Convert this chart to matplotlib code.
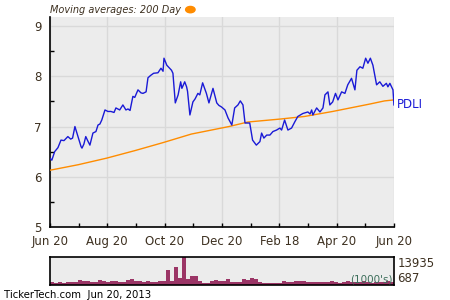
import matplotlib.pyplot as plt
import numpy as np

# days since Jun 20, 2012 and closing price
price_days = [0, 2, 5, 8.5, 11.7, 14.9, 19, 22, 24, 26.5, 29.7, 33, 34, 36, 38, 40,
              42.4, 45.6, 48.8, 51, 53, 55, 58.4, 61.5, 64.7, 68, 70, 72, 74, 77.4,
              80.6, 82.8, 85, 88, 90, 93.4, 96.6, 98.7, 102, 104, 107, 110, 114.6,
              117.8, 120, 121, 124, 126, 129, 130.5, 133, 136, 138.7, 140, 143, 145,
              146, 148.5, 151.7, 154, 157, 159, 162, 166, 168.7, 173, 177, 179.3, 182,
              185.7, 189, 193, 196, 199.5, 202, 204.8, 207, 212, 215, 219, 222.8,
              224.6, 227, 230, 233.4, 236.6, 240.5, 244, 245.8, 249, 252.5, 256.4,
              260, 263, 268.4, 273.7, 276, 277.7, 279, 283, 286.5, 289.7, 291.8, 295,
              297, 300, 303, 305.6, 309.5, 313, 316, 320, 323.6, 325.7, 329, 332, 335,
              337.4, 340, 342.7, 346.6, 350, 353.3, 357, 358.6, 360.7, 364, 365]
price = [6.37, 6.33, 6.50, 6.58, 6.73, 6.72, 6.80, 6.75, 6.77, 7.00, 6.80, 6.60, 6.57,
         6.65, 6.80, 6.72, 6.63, 6.87, 6.90, 7.03, 7.05, 7.13, 7.33, 7.30, 7.30, 7.28,
         7.37, 7.35, 7.33, 7.43, 7.33, 7.35, 7.32, 7.60, 7.58, 7.73, 7.67, 7.66, 7.69,
         7.97, 8.02, 8.06, 8.07, 8.16, 8.10, 8.36, 8.22, 8.18, 8.12, 8.06, 7.47, 7.63,
         7.89, 7.76, 7.89, 7.79, 7.70, 7.23, 7.49, 7.55, 7.66, 7.63, 7.87, 7.66, 7.47,
         7.76, 7.47, 7.42, 7.39, 7.33, 7.17, 7.03, 7.37, 7.43, 7.51, 7.43, 7.07, 7.07,
         6.73, 6.63, 6.70, 6.87, 6.77, 6.83, 6.83, 6.90, 6.93, 6.97, 6.93, 7.13, 6.93,
         6.97, 7.10, 7.20, 7.26, 7.29, 7.25, 7.33, 7.23, 7.37, 7.29, 7.37, 7.63, 7.69,
         7.43, 7.49, 7.66, 7.53, 7.69, 7.66, 7.83, 7.96, 7.73, 8.12, 8.19, 8.16, 8.36,
         8.26, 8.36, 8.22, 7.83, 7.89, 7.80, 7.86, 7.79, 7.86, 7.73, 7.43]

ma_days = [0, 30, 60, 90, 120, 150, 190, 210, 245, 270, 300, 340, 355, 365]
ma200 = [6.13, 6.24, 6.37, 6.52, 6.68, 6.85, 7.00, 7.09, 7.15, 7.20, 7.30, 7.45, 7.51, 7.53]

# volume in thousands, roughly every 4 trading days
volume = [1.4, 1.2, 1.5, 1.2, 1.6, 1.4, 1.7, 2.7, 2.0, 1.8, 1.4, 1.5, 2.6, 2.1, 1.7, 1.8,
          2.0, 1.6, 1.4, 2.7, 2.8, 1.9,
          2.0, 1.7, 1.9, 1.6, 1.5, 1.8, 2.2, 7.5, 2.2, 9.0, 3.7, 13.935, 3.2, 4.4, 4.7,
          2.2, 1.1, 1.0, 1.8, 2.7, 2.2, 2.0,
          3.0, 1.7, 1.4, 1.3, 3.2, 2.6, 3.4, 3.2, 1.7, 1.1, 1.0, 1.0, 1.0, 1.0, 1.8, 1.4,
          1.7, 2.0, 2.2, 1.8, 1.4, 1.7,
          1.6, 1.3, 1.7, 1.4, 1.8, 1.5, 1.2, 1.7, 2.0, 1.4, 1.6, 1.3, 1.8, 1.4, 1.2, 1.5,
          1.7, 1.4, 1.9, 1.6]

tick_labels = ["Jun 20", "Aug 20", "Oct 20", "Dec 20", "Feb 18", "Apr 20", "Jun 20"]

txt = "#3d3020"
bg = "#ececec"
grid = "#d9d9d9"

fig = plt.figure(figsize=(4.5, 3), dpi=100)

ax = fig.add_axes([0.111, 0.2433, 0.7644, 0.70])
ax.set_facecolor(bg)
ax.plot(ma_days, ma200, color="#ff8c00", lw=1.0, zorder=3)
ax.plot(price_days, price, color="#1a1ad6", lw=1.0, zorder=4)
ax.set_xlim(0, 365)
ax.set_ylim(5, 9.18)

major = np.linspace(0, 365, len(tick_labels))
ax.set_xticks(major)
ax.set_xticklabels(tick_labels, fontsize=8.5)
ax.set_xticks((major[:-1] + major[1:]) / 2, minor=True)
ax.set_yticks([5, 6, 7, 8, 9])
ax.set_yticks([5.5, 6.5, 7.5, 8.5], minor=True)
ax.grid(True, which="major", color=grid, lw=1.0, zorder=0)
ax.tick_params(which="both", direction="in", length=3, width=1, color="black",
               labelsize=8.5, labelcolor=txt, pad=6)
ax.tick_params(axis="y", which="major", length=0)
for s in ["top", "right"]:
    ax.spines[s].set_visible(False)
for s in ["left", "bottom"]:
    ax.spines[s].set_linewidth(1.2)

ax.text(1.008, (price[-1] - 5) / 4.18, "PDLI", transform=ax.transAxes,
        color="#1a1ad6", fontsize=8.5, va="center", ha="left")

fig.text(0.111, 0.968, "Moving averages: 200 Day", fontsize=7, style="italic",
         color=txt, va="center", ha="left")
fig.patches.append(plt.Circle((0.423, 0.968), 0.0105, transform=fig.transFigure,
                              figure=fig, color="#ff8c00"))

vax = fig.add_axes([0.111, 0.05, 0.7644, 0.0933])
vax.set_facecolor(bg)
vx = np.arange(len(volume))
vax.bar(vx, volume, width=1.0, align="edge", color="#9b3566", lw=0)
vax.set_xlim(0, len(volume))
vax.set_ylim(0, 13.935)
vax.set_xticks([])
vax.set_yticks([])
for s in vax.spines.values():
    s.set_linewidth(1.2)
vax.text(1.01, 1.0, "13935", transform=vax.transAxes, fontsize=8.5, color=txt,
         va="top", ha="left")
vax.text(1.01, 0.0, "687", transform=vax.transAxes, fontsize=8.5, color=txt,
         va="bottom", ha="left")
vax.text(0.995, 0.02, "(1000's)", transform=vax.transAxes, fontsize=7.5,
         color="#3c6e5a", va="bottom", ha="right")

fig.text(0.01, 0.017, "TickerTech.com  Jun 20, 2013", fontsize=7.3, color="black",
         va="center", ha="left")

fig.savefig("out.png", dpi=100)
